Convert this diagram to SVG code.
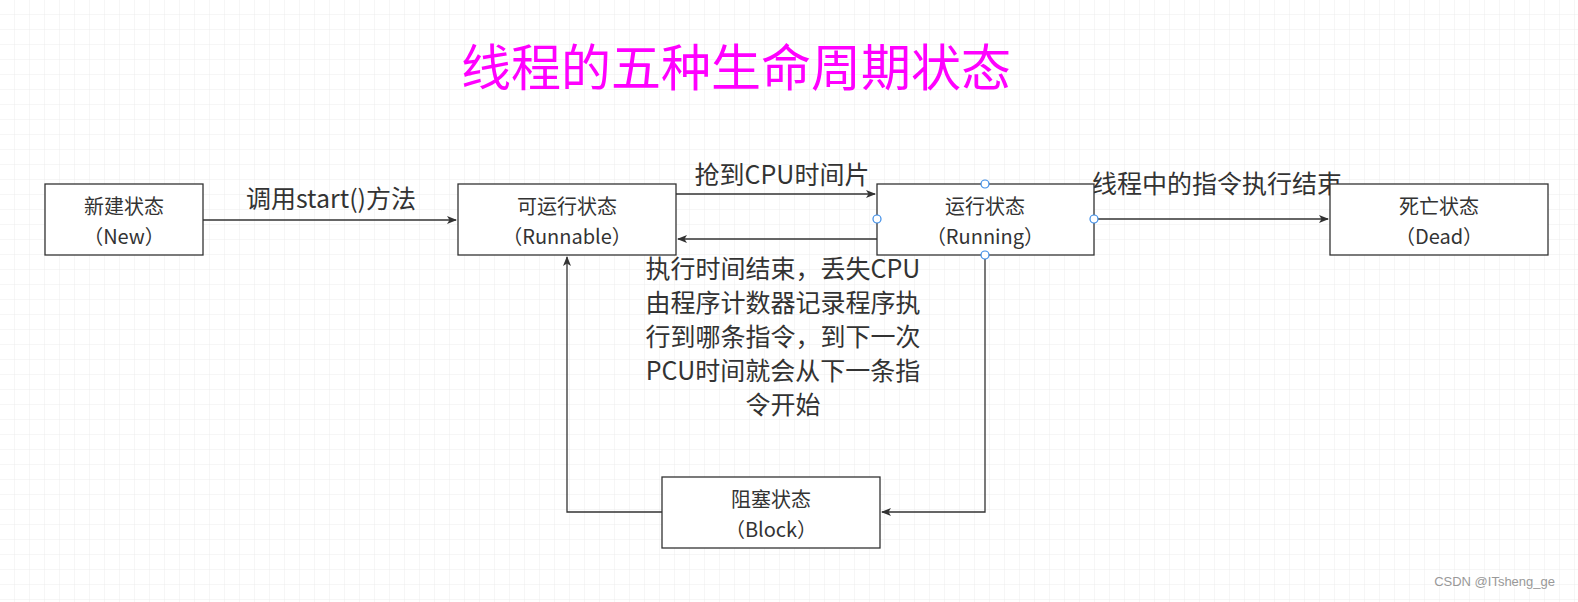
<svg xmlns="http://www.w3.org/2000/svg" width="1578" height="602" viewBox="0 0 1578 602">
<defs>
<pattern id="g" width="15" height="15" patternUnits="userSpaceOnUse"><path d="M15 0V15H0" fill="none" stroke="#ececec" stroke-width="1"/></pattern>
<marker id="a" markerWidth="10" markerHeight="10" refX="9" refY="5" orient="auto" markerUnits="userSpaceOnUse"><path d="M0 1L10 5L0 9L2.5 5Z" fill="#333"/></marker>
<style>
.box{fill:#fff;stroke:#333;stroke-width:1.3}
.t{font-family:"Noto Sans CJK SC","Liberation Sans",sans-serif;fill:#333;text-anchor:middle}
.n{font-size:20px}
.l{font-size:25px}
.c{fill:none;stroke:#333;stroke-width:1.3}
.h{fill:#fff;stroke:#3c8ce7;stroke-width:1.2}
</style>
</defs>
<rect width="1578" height="602" fill="#fff"/>
<rect width="1578" height="602" fill="url(#g)"/>
<text class="t" x="736" y="86" font-size="50" style="fill:#ff00ff">线程的五种生命周期状态</text>
<g id="connectors">
<path class="c" d="M203 220H456" marker-end="url(#a)"/>
<path class="c" d="M676 194H875" marker-end="url(#a)"/>
<path class="c" d="M877 239H678" marker-end="url(#a)"/>
<path class="c" d="M1094 219H1328" marker-end="url(#a)"/>
<path class="c" d="M985 255V512H882" marker-end="url(#a)"/>
<path class="c" d="M662 512H567V257" marker-end="url(#a)"/>
<text class="t l" x="331" y="208">调用start()方法</text>
<text class="t l" x="782" y="184">抢到CPU时间片</text>
<text class="t l" x="1217" y="193">线程中的指令执行结束</text>
<text class="t l" x="783" y="278">执行时间结束，丢失CPU</text>
<text class="t l" x="783" y="312">由程序计数器记录程序执</text>
<text class="t l" x="783" y="346">行到哪条指令，到下一次</text>
<text class="t l" x="783" y="380">PCU时间就会从下一条指</text>
<text class="t l" x="783" y="414">令开始</text>
</g>
<g id="new"><rect class="box" x="45" y="184" width="158" height="71"/><text class="t n" x="124" y="214">新建状态</text><text class="t n" x="124" y="244">（New）</text></g>
<g id="runnable"><rect class="box" x="458" y="184" width="218" height="71"/><text class="t n" x="567" y="214">可运行状态</text><text class="t n" x="567" y="244">（Runnable）</text></g>
<g id="running"><rect class="box" x="877" y="184" width="217" height="71"/><text class="t n" x="985" y="214">运行状态</text><text class="t n" x="985" y="244">（Running）</text>
<circle class="h" cx="985" cy="184" r="4"/><circle class="h" cx="877" cy="219" r="4"/><circle class="h" cx="1094" cy="219" r="4"/><circle class="h" cx="985" cy="255" r="4"/></g>
<g id="dead"><rect class="box" x="1330" y="184" width="218" height="71"/><text class="t n" x="1439" y="214">死亡状态</text><text class="t n" x="1439" y="244">（Dead）</text></g>
<g id="block"><rect class="box" x="662" y="477" width="218" height="71"/><text class="t n" x="771" y="507">阻塞状态</text><text class="t n" x="771" y="537">（Block）</text></g>
<text x="1555" y="586" font-family="Liberation Sans,sans-serif" font-size="13" fill="#999" text-anchor="end">CSDN @ITsheng_ge</text>
</svg>
